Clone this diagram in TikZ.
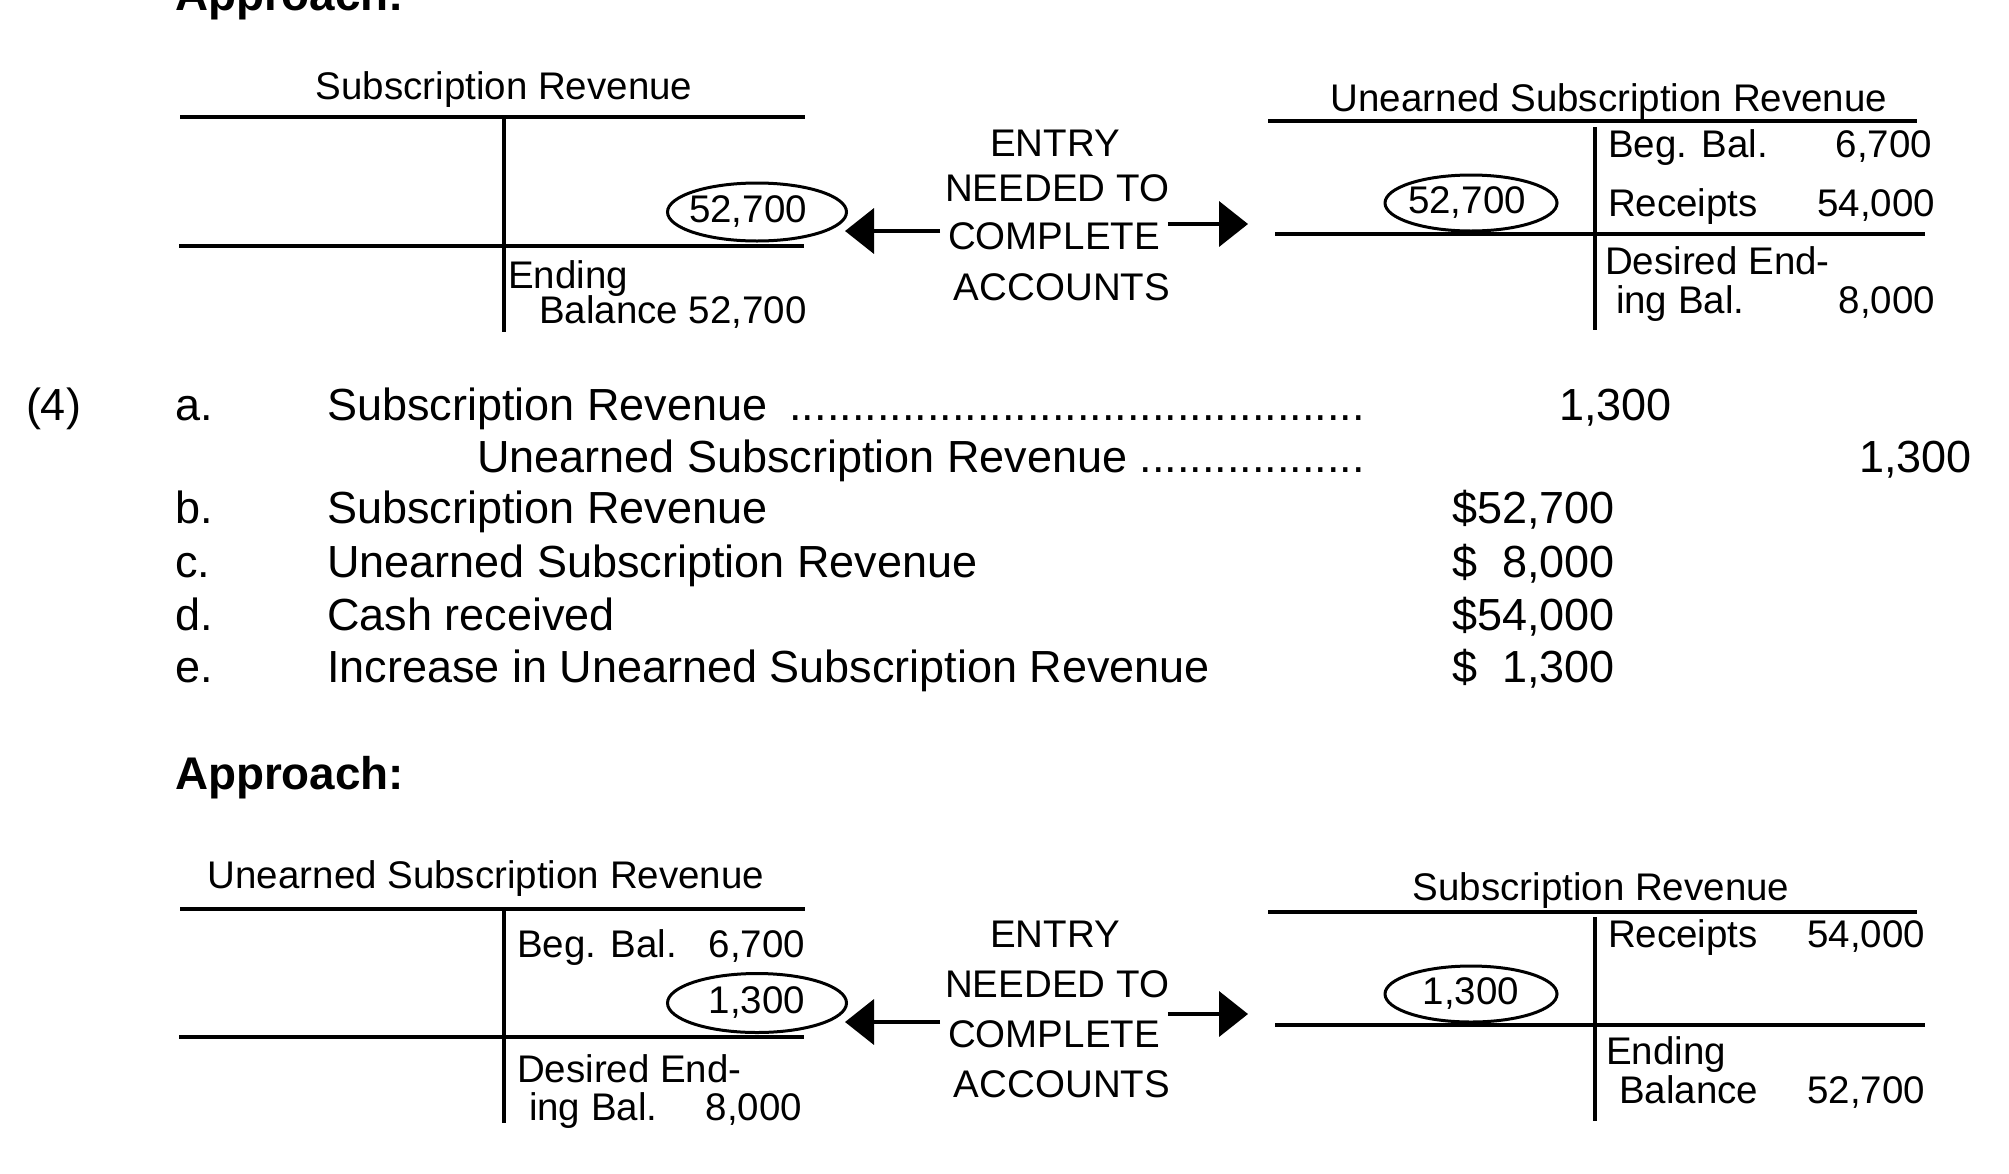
\documentclass[tikz,border=0pt]{standalone}
\usepackage{fontspec}
\setmainfont{Liberation Sans}
\usetikzlibrary{arrows.meta,shapes.geometric}
\newcommand{\acctfont}{\fontsize{38.5}{46}\selectfont}
\newcommand{\listfont}{\fontsize{45}{52}\selectfont}
\newcommand{\headfont}{\fontsize{45.8}{52}\selectfont\bfseries}
\newcommand{\mydots}{\leaders\hbox{.}\hfill}
\begin{document}
\begin{tikzpicture}[x=1pt,y=-1pt,
  txt/.style={inner sep=0pt, outer sep=0pt, font=\acctfont},
  lst/.style={inner sep=0pt, outer sep=0pt, font=\listfont},
  hd/.style={inner sep=0pt, outer sep=0pt, font=\headfont},
  hrule/.style={line width=4.5pt},
  vrule/.style={line width=3.5pt},
  oval/.style={ellipse, draw, line width=3pt, inner sep=0pt, font=\acctfont},
  arr/.style={line width=4pt, -{Triangle[length=29pt,width=45pt]}}]
\useasboundingbox (0,0) rectangle (2009,1173);

% ---------- top heading ----------
\node[hd, anchor=base west] (app1) at (175,10) {Approach:};

% ---------- top-left T account ----------
\node[txt, anchor=base] (tlt) at (504,99) {Subscription Revenue};
\draw[hrule] (180,117) -- (805,117);
\draw[vrule] (504,117) -- (504,332);
\draw[hrule] (179,246) -- (804,246);
\node[oval, minimum width=179pt, minimum height=58pt] (tlo) at (757,212) {\hspace*{-18pt}52,700};
\node[txt, anchor=base west] (tle1) at (508,288) {Ending};
\node[txt, anchor=base west] (tle2) at (539,323) {Balance 52,700};

% ---------- top centre text ----------
\node[txt, anchor=base] (te1) at (1055,156) {ENTRY};
\node[txt, anchor=base] (te2) at (1057,201) {NEEDED TO};
\node[txt, anchor=base] (te3) at (1054,249) {COMPLETE};
\node[txt, anchor=base] (te4) at (1062,300) {ACCOUNTS};
\coordinate (tal) at (845,231);
\coordinate (tar) at (1248,224);
\draw[arr] (te3.west |- tal) ++(-8,0) -- (tal);
\draw[arr] (te3.east |- tar) ++(8,0) -- (tar);

% ---------- top-right T account ----------
\node[txt, anchor=base] (trt) at (1609,111) {Unearned Subscription Revenue};
\draw[hrule] (1268,121) -- (1917,121);
\draw[vrule] (1595,127) -- (1595,330);
\draw[hrule] (1275,234) -- (1925,234);
\node[oval, minimum width=172pt, minimum height=56pt] (tro) at (1471,203) {\hspace*{-8pt}52,700};
\node[txt, anchor=base west] (trb) at (1608,157) {Beg. Bal.};
\node[txt, anchor=base east] (trbv) at (1932,157) {6,700};
\node[txt, anchor=base west] (trr) at (1608,216) {Receipts};
\node[txt, anchor=base east] (trrv) at (1935,216) {54,000};
\node[txt, anchor=base west] (trd1) at (1605,274) {Desired End-};
\node[txt, anchor=base west] (trd2) at (1616,313) {ing Bal.};
\node[txt, anchor=base east] (trdv) at (1935,313) {8,000};

% ---------- (4) list ----------
\node[lst, anchor=base west] (n4) at (26,420) {(4)};
\node[lst, anchor=base west] (la) at (175,420) {a.};
\node[lst, anchor=base west] (lat) at (327,420) {\makebox[1045pt][l]{Subscription Revenue \mydots}};
\node[lst, anchor=base east] (lav) at (1672,420) {1,300};
\node[lst, anchor=base west] (la2t) at (477,472) {\makebox[895pt][l]{Unearned Subscription Revenue\mydots}};
\node[lst, anchor=base east] (la2v) at (1972,472) {1,300};
\node[lst, anchor=base west] (lb) at (175,523) {b.};
\node[lst, anchor=base west] (lbt) at (327,523) {Subscription Revenue};
\node[lst, anchor=base east] (lbv) at (1615,523) {\makebox[163pt]{\$\hfill 52,700}};
\node[lst, anchor=base west] (lc) at (175,577) {c.};
\node[lst, anchor=base west] (lct) at (327,577) {Unearned Subscription Revenue};
\node[lst, anchor=base east] (lcv) at (1615,577) {\makebox[163pt]{\$\hfill 8,000}};
\node[lst, anchor=base west] (ld) at (175,630) {d.};
\node[lst, anchor=base west] (ldt) at (327,630) {Cash received};
\node[lst, anchor=base east] (ldv) at (1615,630) {\makebox[163pt]{\$\hfill 54,000}};
\node[lst, anchor=base west] (le) at (175,682) {e.};
\node[lst, anchor=base west] (let) at (327,682) {Increase in Unearned Subscription Revenue};
\node[lst, anchor=base east] (lev) at (1615,682) {\makebox[163pt]{\$\hfill 1,300}};

% ---------- second heading ----------
\node[hd, anchor=base west] (app2) at (175,789) {Approach:};

% ---------- bottom-left T account ----------
\node[txt, anchor=base] (blt) at (486,888) {Unearned Subscription Revenue};
\draw[hrule] (180,909) -- (805,909);
\draw[vrule] (504,909) -- (504,1123);
\draw[hrule] (179,1037) -- (804,1037);
\node[oval, minimum width=179pt, minimum height=59pt] (blo) at (757,1003) {1,300};
\node[txt, anchor=base west] (blb) at (517,957) {Beg. Bal.};
\node[txt, anchor=base east] (blbv) at (805,957) {6,700};
\node[txt, anchor=base west] (bld1) at (517,1082) {Desired End-};
\node[txt, anchor=base west] (bld2) at (529,1120) {ing Bal.};
\node[txt, anchor=base east] (bldv) at (802,1120) {8,000};

% ---------- bottom centre text ----------
\node[txt, anchor=base] (be1) at (1055,947) {ENTRY};
\node[txt, anchor=base] (be2) at (1057,997) {NEEDED TO};
\node[txt, anchor=base] (be3) at (1054,1047) {COMPLETE};
\node[txt, anchor=base] (be4) at (1062,1097) {ACCOUNTS};
\coordinate (bal) at (845,1022);
\coordinate (bar) at (1248,1014);
\draw[arr] (be3.west |- bal) ++(-8,0) -- (bal);
\draw[arr] (be3.east |- bar) ++(8,0) -- (bar);

% ---------- bottom-right T account ----------
\node[txt, anchor=base] (brt) at (1601,900) {Subscription Revenue};
\draw[hrule] (1268,912) -- (1917,912);
\draw[vrule] (1595,917) -- (1595,1121);
\draw[hrule] (1275,1025) -- (1925,1025);
\node[oval, minimum width=172pt, minimum height=56pt] (bro) at (1471,994) {1,300};
\node[txt, anchor=base west] (brr) at (1608,947) {Receipts};
\node[txt, anchor=base east] (brrv) at (1925,947) {54,000};
\node[txt, anchor=base west] (bre1) at (1606,1064) {Ending};
\node[txt, anchor=base west] (bre2) at (1619,1103) {Balance};
\node[txt, anchor=base east] (brev) at (1925,1103) {52,700};
\end{tikzpicture}
\end{document}
